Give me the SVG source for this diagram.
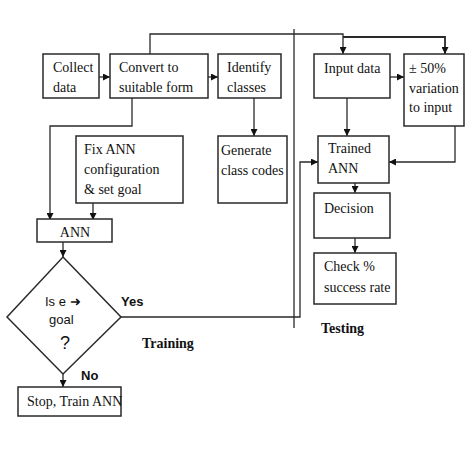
<svg xmlns="http://www.w3.org/2000/svg" width="474" height="474" viewBox="0 0 474 474">
<style>
.b{fill:#fff;stroke:#2a2a2a;stroke-width:1.5}
.t{font-family:"Liberation Serif","Times New Roman",serif;font-size:14px;fill:#111}
.s{font-family:"Liberation Sans",Arial,sans-serif;font-size:13px;fill:#111}
.c{fill:none;stroke:#2a2a2a;stroke-width:1.3}
.bold{font-weight:bold}
</style>
<defs>
<marker id="a" viewBox="0 0 10 10" refX="10" refY="5" markerWidth="7" markerHeight="7" markerUnits="userSpaceOnUse" orient="auto">
<path d="M0 0L10 5L0 10z" fill="#111"/>
</marker>
</defs>
<rect width="474" height="474" fill="#fff"/>
<g id="connectors">
<path class="c" d="M99 77H110" marker-end="url(#a)"/>
<path class="c" d="M208 77H218" marker-end="url(#a)"/>
<path class="c" d="M150 54V34H343V54" marker-end="url(#a)"/>
<path class="c" d="M343 37H445V54" marker-end="url(#a)" style="stroke-width:1.8"/>
<path class="c" d="M132 98V126H50V220" marker-end="url(#a)"/>
<path class="c" d="M93 203V220" marker-end="url(#a)"/>
<path class="c" d="M254 98V136" marker-end="url(#a)"/>
<path class="c" d="M390 77H404" marker-end="url(#a)"/>
<path class="c" d="M347 98V136" marker-end="url(#a)"/>
<path class="c" d="M455 126V162H389" marker-end="url(#a)"/>
<path class="c" d="M121 317H300V162H318" marker-end="url(#a)"/>
<path class="c" d="M355 183V193" marker-end="url(#a)"/>
<path class="c" d="M355 238V253" marker-end="url(#a)"/>
<path class="c" d="M63 242V257" marker-end="url(#a)"/>
<path class="c" d="M63 374V387" marker-end="url(#a)"/>
<path class="c" d="M294 29V328"/>
</g>
<g id="collect"><rect class="b" x="43" y="54" width="56" height="44"/><text class="t" x="53" y="72">Collect</text><text class="t" x="53" y="92">data</text></g>
<g id="convert"><rect class="b" x="110" y="54" width="98" height="44"/><text class="t" x="119" y="72">Convert to</text><text class="t" x="119" y="92">suitable form</text></g>
<g id="identify"><rect class="b" x="218" y="54" width="63" height="44"/><text class="t" x="227" y="72">Identify</text><text class="t" x="227" y="92">classes</text></g>
<g id="generate"><rect class="b" x="218" y="136" width="69" height="67"/><text class="t" x="221" y="155">Generate</text><text class="t" x="221" y="175">class codes</text></g>
<g id="fixann"><rect class="b" x="76" y="136" width="107" height="67"/><text class="t" x="84" y="154">Fix ANN</text><text class="t" x="84" y="174">configuration</text><text class="t" x="84" y="194">&amp; set goal</text></g>
<g id="ann"><rect class="b" x="37" y="219" width="75" height="23"/><text class="t" x="75" y="237" text-anchor="middle">ANN</text></g>
<g id="decision-goal"><path class="b" d="M63 257L121 317L63 374L7 317Z"/><text class="s" x="45" y="306">Is e ➜</text><text class="s" x="49" y="324">goal</text><text class="s" x="60" y="349" style="font-size:18px">?</text></g>
<text class="s bold" x="121" y="306">Yes</text>
<text class="s bold" x="81" y="380">No</text>
<g id="stop"><rect class="b" x="18" y="387" width="103" height="29"/><text class="t" x="27" y="406">Stop, Train ANN</text></g>
<text class="t bold" x="142" y="348">Training</text>
<g id="input"><rect class="b" x="314" y="54" width="76" height="44"/><text class="t" x="324" y="73">Input data</text></g>
<g id="variation"><rect class="b" x="404" y="54" width="60" height="72"/><text class="t" x="409" y="73">± 50%</text><text class="t" x="409" y="93">variation</text><text class="t" x="409" y="112">to input</text></g>
<g id="trained"><rect class="b" x="318" y="136" width="71" height="47"/><text class="t" x="328" y="153">Trained</text><text class="t" x="328" y="173">ANN</text></g>
<g id="decision"><rect class="b" x="314" y="193" width="76" height="45"/><text class="t" x="324" y="213">Decision</text></g>
<g id="check"><rect class="b" x="314" y="253" width="82" height="51"/><text class="t" x="324" y="271">Check %</text><text class="t" x="324" y="292">success rate</text></g>
<text class="t bold" x="321" y="333">Testing</text>
</svg>
